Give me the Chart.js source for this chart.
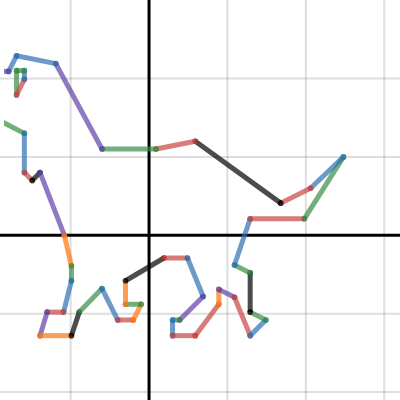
<!DOCTYPE html>
<html>
<head>
<meta charset="utf-8">
<script src="https://cdn.jsdelivr.net/npm/chart.js@4"></script>
<style>
  body { margin: 0; background: #fff; }
  canvas { display: block; }
</style>
</head>
<body>
<canvas id="chart" width="400" height="400"></canvas>
<script>
// dinosaur outline, one segment per consecutive pair of points
const pathX = [-1.98, -1.79, -1.69, -1.19, -0.6, 0.09, 0.59, 1.68, 2.06, 2.48, 1.98, 1.29, 1.09, 1.29, 1.29, 1.49, 1.29, 1.09, 0.89, 0.89, 0.59, 0.3, 0.3, 0.39, 0.69, 0.49, 0.19, -0.3, -0.3, -0.1, -0.2, -0.4, -0.6, -0.89, -0.99, -1.39, -1.3, -1.09, -0.99, -0.99, -1.08, -1.39, -1.49, -1.59, -1.59, -1.98];
const pathY = [2.09, 2.09, 2.29, 2.19, 1.1, 1.1, 1.2, 0.41, 0.6, 1.0, 0.21, 0.21, -0.38, -0.48, -0.98, -1.08, -1.28, -0.79, -0.69, -0.88, -1.28, -1.28, -1.08, -1.08, -0.78, -0.29, -0.29, -0.58, -0.88, -0.88, -1.08, -1.08, -0.68, -0.98, -1.28, -1.28, -0.98, -0.98, -0.58, -0.39, 0.0, 0.8, 0.7, 0.8, 1.3, 1.5];
const pathColors = ['purple', 'blue', 'blue', 'purple', 'green', 'red', 'black', 'red', 'blue', 'green', 'red', 'blue', 'green', 'black', 'green', 'blue', 'red', 'purple', 'orange', 'red', 'red', 'blue', 'green', 'purple', 'blue', 'red', 'black', 'orange', 'green', 'orange', 'red', 'blue', 'green', 'black', 'orange', 'purple', 'red', 'blue', 'green', 'orange', 'purple', 'black', 'red', 'blue', 'green'];

const eyeX = [-1.69, -1.59, -1.59, -1.69, -1.69];
const eyeY = [2.1, 2.1, 1.99, 1.79, 2.1];
const eyeColors = ['green', 'blue', 'red', 'green'];

const xGrid = [-1, 0, 1, 2, 3];
const yGrid = [-2, -1, 0, 1, 2];

const palette = {
    red: 'rgba(199,68,64,0.7)',
    blue: 'rgba(45,112,179,0.7)',
    green: 'rgba(56,140,70,0.7)',
    purple: 'rgba(96,66,166,0.7)',
    orange: 'rgba(250,126,25,0.75)',
    black: 'rgba(0,0,0,0.7)'
};

const datasets = [];
function addSegments(xs, ys, cols) {
    for (let i = 0; i < cols.length; i++) {
        const c = palette[cols[i]];
        datasets.push({
            data: [{ x: xs[i], y: ys[i] }, { x: xs[i + 1], y: ys[i + 1] }],
            showLine: true,
            borderColor: c,
            backgroundColor: c,
            borderWidth: 5,
            pointRadius: 2.8,
            pointBorderWidth: 0
        });
    }
}
addSegments(pathX, pathY, pathColors);
addSegments(eyeX, eyeY, eyeColors);

// grid + axes, drawn under the lines
const gridPlugin = {
    id: 'grid',
    beforeDatasetsDraw(chart) {
        const { ctx, scales: { x, y } } = chart;
        const W = chart.width, H = chart.height;
        ctx.save();
        const line = (x1, y1, x2, y2, col, w) => {
            ctx.strokeStyle = col; ctx.lineWidth = w;
            ctx.beginPath(); ctx.moveTo(x1, y1); ctx.lineTo(x2, y2); ctx.stroke();
        };
        xGrid.forEach(v => {
            const p = x.getPixelForValue(v);
            line(p, 0, p, H, v === 0 ? '#000' : 'rgba(0,0,0,0.13)', v === 0 ? 3 : 2);
        });
        yGrid.forEach(v => {
            const p = y.getPixelForValue(v);
            line(0, p, W, p, v === 0 ? '#000' : 'rgba(0,0,0,0.13)', v === 0 ? 3 : 2);
        });
        ctx.restore();
    }
};

const axis = (min, max) => ({ display: false, min: min, max: max });

new Chart(document.getElementById('chart'), {
    type: 'scatter',
    data: { datasets: datasets },
    options: {
        responsive: false,
        animation: false,
        layout: { padding: 0 },
        plugins: { legend: { display: false }, tooltip: { enabled: false } },
        scales: {
            x: axis(-1.85, 3.15),
            y: axis(-2.05, 2.95)
        }
    },
    plugins: [gridPlugin]
});
</script>
</body>
</html>
